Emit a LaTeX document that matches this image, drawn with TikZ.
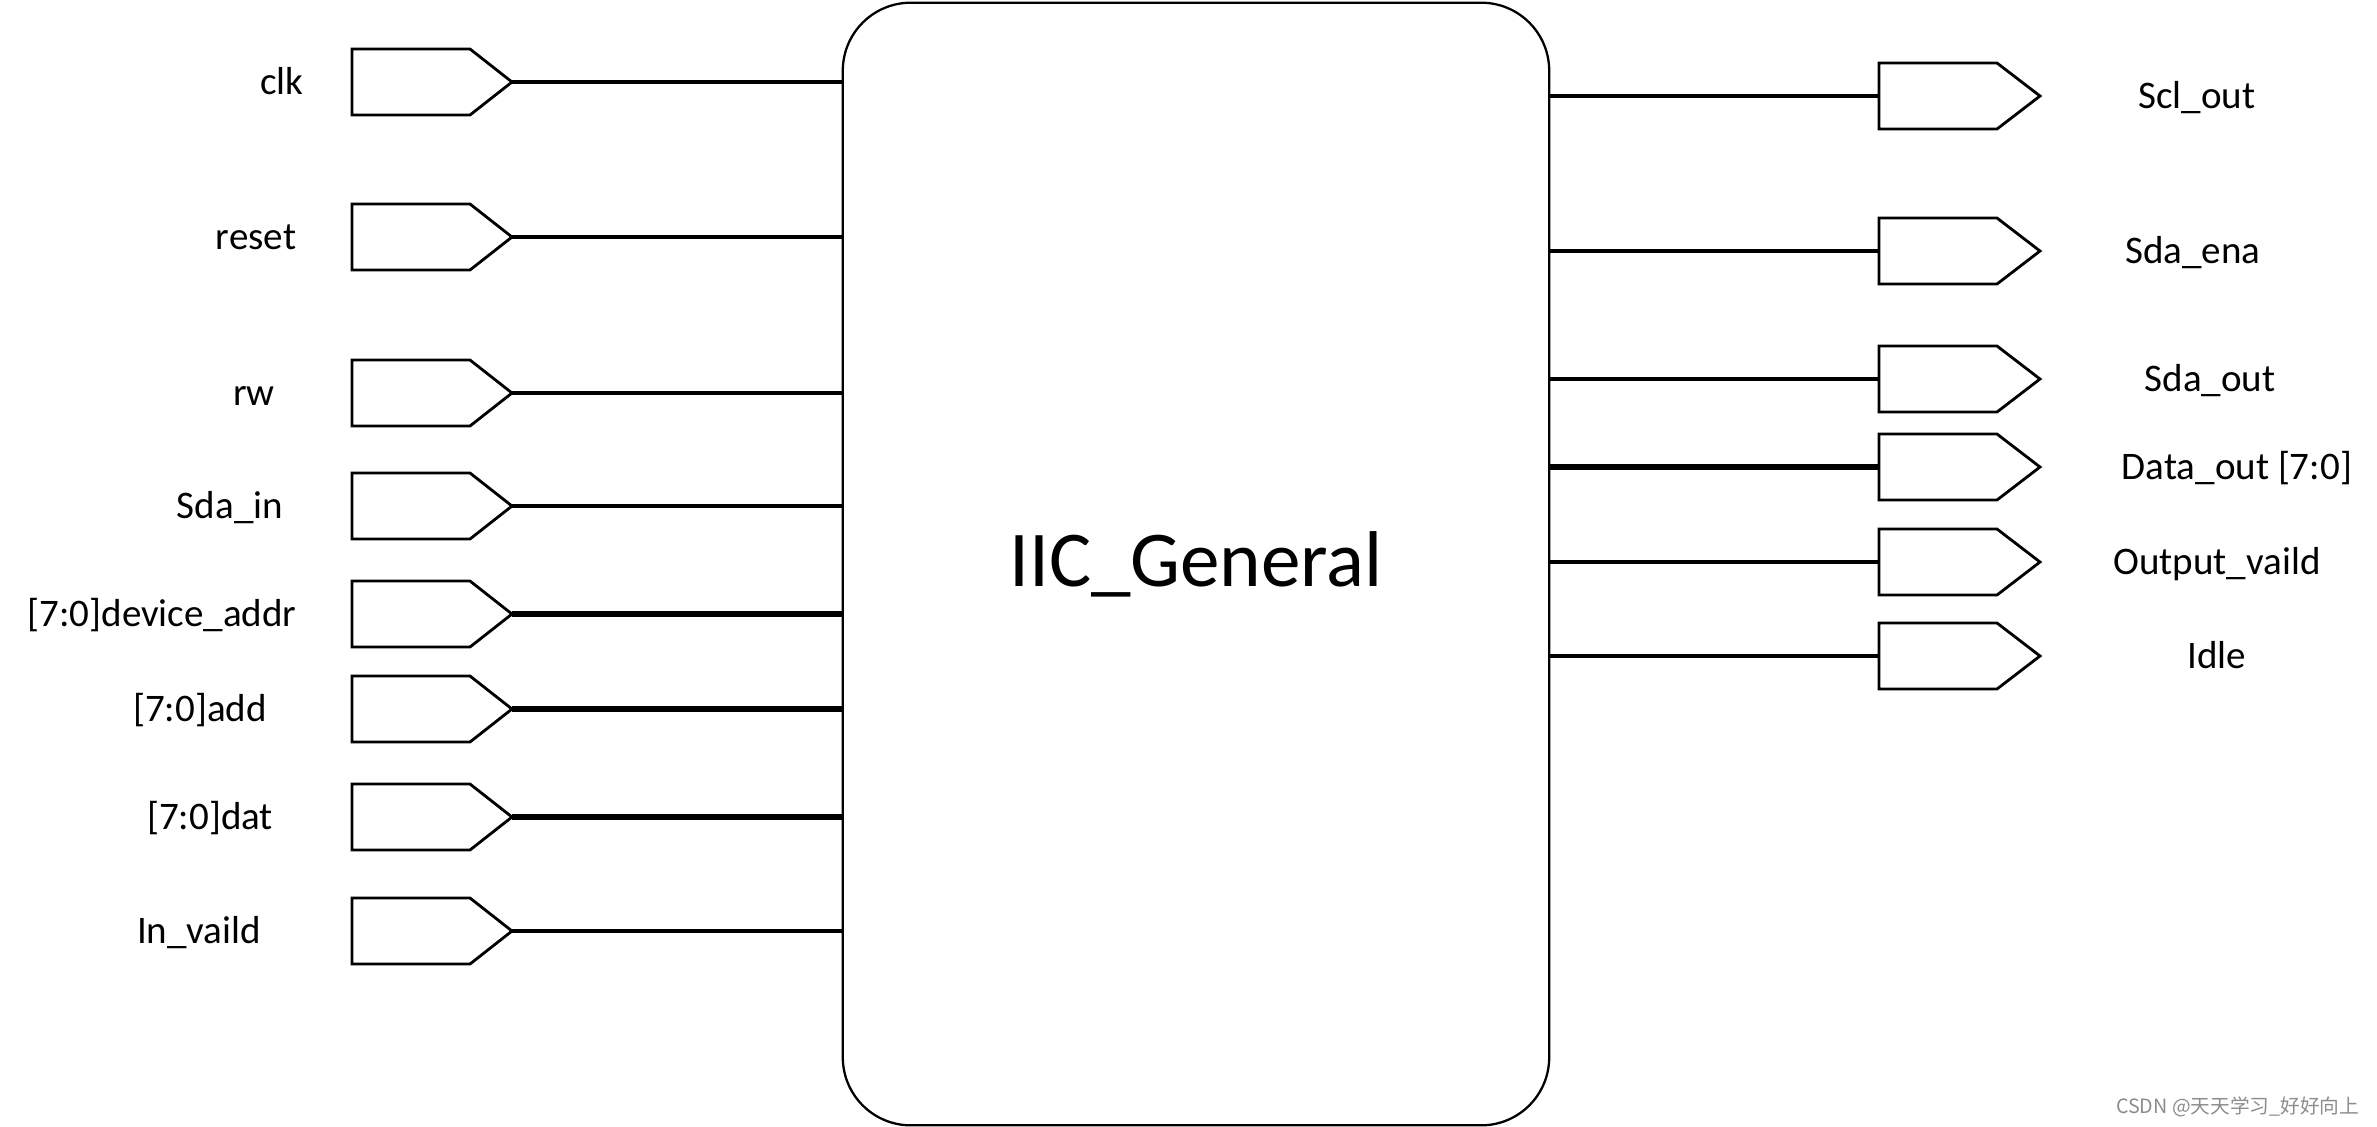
\documentclass[tikz,border=0pt]{standalone}
\usepackage{fontspec}
\setmainfont{Carlito}
\newfontfamily\cjkfont{Noto Sans CJK SC}

\tikzset{
  port/.style={draw=black, line width=0.8pt, fill=white, line join=miter},
  wire/.style={line width=1pt},
  bus/.style={line width=1.7pt},
  lbl/.style={font=\fontsize{11.1}{13}\selectfont, inner sep=0pt, text height=7pt, text depth=0pt}
}

\begin{document}
\begin{tikzpicture}[x=0.01cm,y=-0.01cm]
   \useasboundingbox (0,0) rectangle (2377,1126);
   % module body
   \node[draw, line width=0.65pt, rounded corners=0.68cm, minimum width=7.06cm, minimum height=11.22cm,
         font=\fontsize{22.5}{27}\selectfont] (core) at (1196,564) {IIC\_General};
   % inputs
   \foreach \y/\txt/\lx/\w [count=\i] in {82/clk/282/wire, 237/reset/256/wire, 393/rw/254/wire,
       506/Sda\_in/230/wire, 614/{[7:0]device\_addr}/162/bus, 709/{[7:0]add}/200/bus,
       817/{[7:0]dat}/210/bus, 931/In\_vaild/199/wire} {
    \draw[port] (352,\y-33) -- (470,\y-33) -- (512,\y) -- (470,\y+33) -- (352,\y+33) -- cycle;
    \coordinate (in\i) at (512,\y);
    \draw[\w] (in\i) -- (core.west |- in\i);
    \node[lbl] (inlbl\i) at (\lx,\y) {\txt};
   }
   % outputs
   \foreach \y/\txt/\lx/\w [count=\i] in {96/Scl\_out/2197/wire, 251/Sda\_ena/2193/wire,
       379/Sda\_out/2210/wire, 467/{Data\_out [7:0]}/2237/bus, 562/Output\_vaild/2217/wire,
       656/Idle/2217/wire} {
    \draw[port] (1879,\y-33) -- (1997,\y-33) -- (2040,\y) -- (1997,\y+33) -- (1879,\y+33) -- cycle;
    \coordinate (out\i) at (1879,\y);
    \draw[\w] (core.east |- out\i) -- (out\i);
    \node[lbl] (outlbl\i) at (\lx,\y) {\txt};
   }
   \node[font=\cjkfont\fontsize{5.6}{7}\selectfont, text=black!45, anchor=east, inner sep=0pt] (mark)
        at (2360,1107) {CSDN @天天学习\_好好向上};
\end{tikzpicture}
\end{document}
